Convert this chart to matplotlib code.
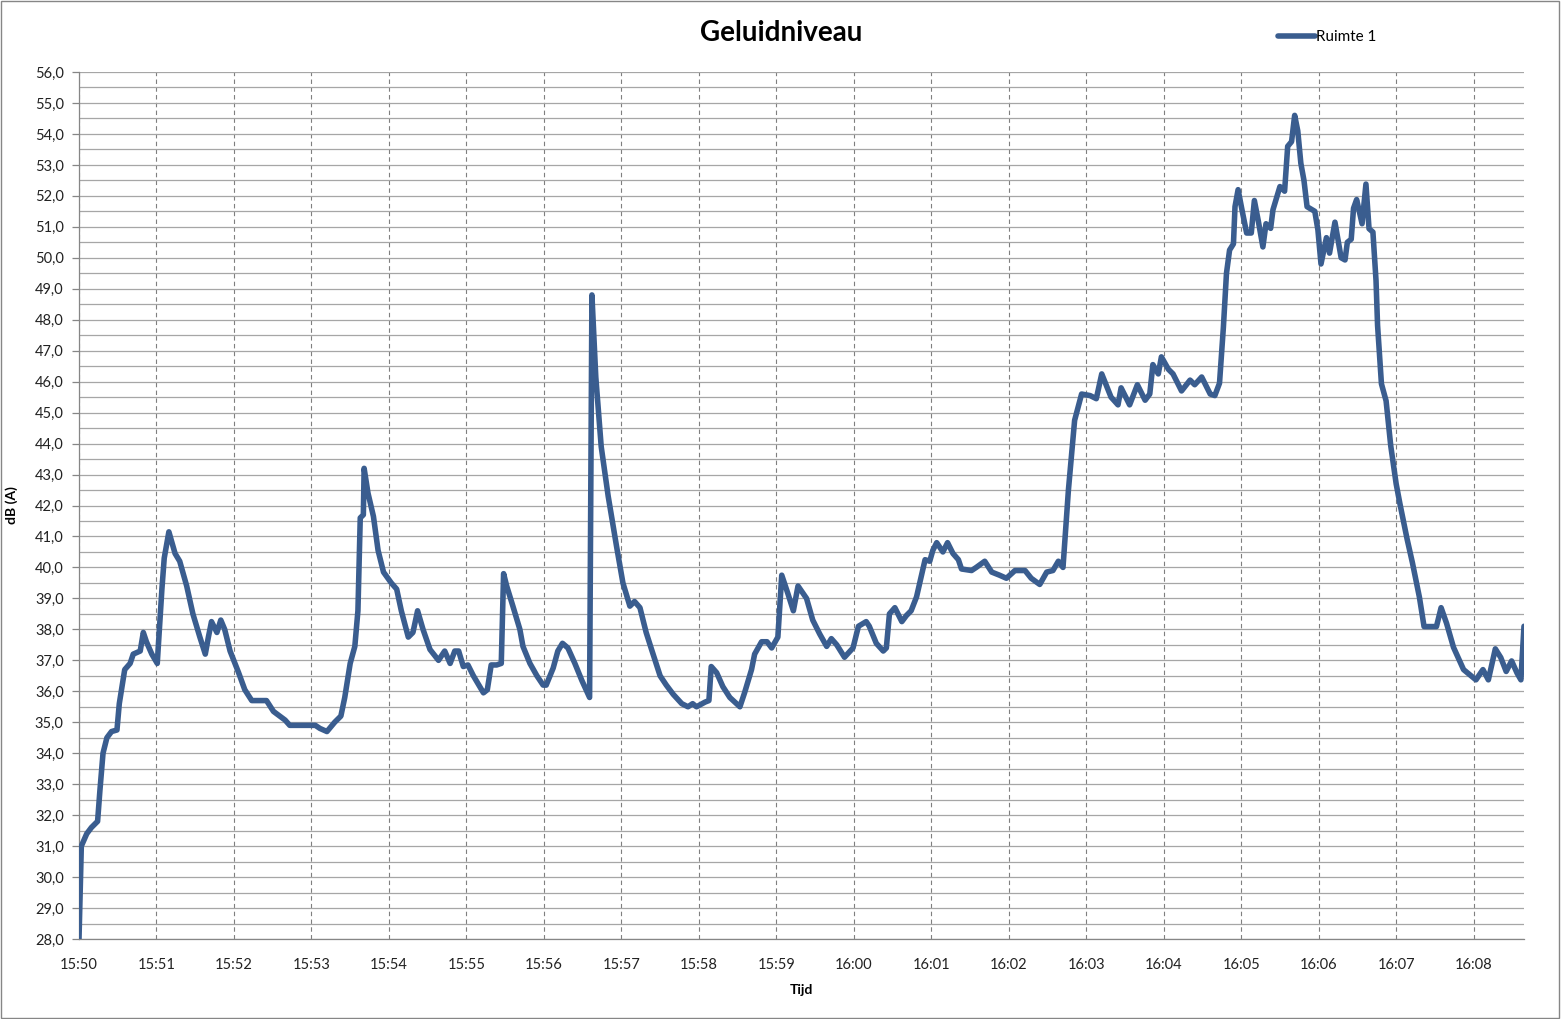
import matplotlib
matplotlib.use("Agg")
import matplotlib.pyplot as plt
from matplotlib.ticker import MultipleLocator, FuncFormatter
from matplotlib.patches import Rectangle

# minuten na 15:50
tijd = [
    0.00, 0.03, 0.10, 0.16, 0.24, 0.27, 0.31, 0.36, 0.42, 0.49, 0.52, 0.59, 0.66, 0.70,
    0.79, 0.83, 0.87, 0.94, 1.01, 1.07, 1.10, 1.16, 1.24, 1.30, 1.39, 1.47, 1.56, 1.63,
    1.67, 1.71, 1.78, 1.83, 1.88, 1.95, 2.06, 2.14, 2.23, 2.42, 2.51, 2.66, 2.72, 3.05,
    3.11, 3.20, 3.30, 3.38, 3.43, 3.50, 3.56, 3.60, 3.63, 3.67, 3.68, 3.73, 3.80, 3.86,
    3.93, 4.03, 4.10, 4.16, 4.25, 4.31, 4.37, 4.44, 4.53, 4.64, 4.72, 4.79, 4.85, 4.90,
    4.96, 5.02, 5.09, 5.22, 5.27, 5.32, 5.39, 5.45, 5.48, 5.52, 5.60, 5.69, 5.73, 5.82,
    5.91, 5.99, 6.03, 6.12, 6.18, 6.24, 6.31, 6.40, 6.49, 6.59, 6.61, 6.62, 6.65, 6.67,
    6.74, 6.83, 6.94, 7.02, 7.11, 7.17, 7.24, 7.32, 7.39, 7.50, 7.58, 7.67, 7.78, 7.86,
    7.92, 7.97, 8.08, 8.13, 8.16, 8.23, 8.31, 8.40, 8.53, 8.59, 8.68, 8.72, 8.81, 8.88,
    8.94, 9.02, 9.07, 9.15, 9.22, 9.28, 9.39, 9.47, 9.56, 9.65, 9.71, 9.78, 9.88, 9.99,
    10.06, 10.16, 10.20, 10.29, 10.38, 10.42, 10.46, 10.53, 10.62, 10.68, 10.74, 10.81,
    10.87, 10.92, 10.98, 11.02, 11.07, 11.15, 11.21, 11.28, 11.35, 11.39, 11.52, 11.58,
    11.69, 11.78, 11.88, 11.97, 12.08, 12.21, 12.29, 12.40, 12.49, 12.57, 12.64, 12.70,
    12.77, 12.82, 12.85, 12.94, 13.05, 13.13, 13.20, 13.32, 13.41, 13.45, 13.56, 13.66,
    13.76, 13.82, 13.86, 13.93, 13.97, 14.06, 14.12, 14.23, 14.34, 14.40, 14.49, 14.60,
    14.66, 14.72, 14.77, 14.81, 14.85, 14.90, 14.92, 14.96, 15.01, 15.07, 15.13, 15.17,
    15.22, 15.28, 15.32, 15.38, 15.41, 15.50, 15.56, 15.60, 15.65, 15.69, 15.73, 15.77,
    15.81, 15.85, 15.95, 15.99, 16.03, 16.10, 16.14, 16.21, 16.29, 16.34, 16.37, 16.42,
    16.45, 16.49, 16.56, 16.61, 16.65, 16.70, 16.74, 16.76, 16.81, 16.87, 16.93, 17.00,
    17.05, 17.14, 17.21, 17.30, 17.36, 17.52, 17.58, 17.65, 17.74, 17.87, 18.03, 18.12,
    18.19, 18.28, 18.35, 18.42, 18.49, 18.56, 18.61, 18.65,
]

# geluidniveau in dB(A)
ruimte_1 = [
    28.0, 31.0, 31.4, 31.6, 31.8, 32.8, 34.0, 34.5, 34.7, 34.75, 35.6, 36.7, 36.9, 37.2,
    37.3, 37.9, 37.6, 37.2, 36.9, 39.3, 40.3, 41.15, 40.45, 40.2, 39.4, 38.5, 37.75, 37.2,
    37.75, 38.25, 37.9, 38.3, 38.0, 37.3, 36.6, 36.05, 35.7, 35.7, 35.35, 35.07, 34.9, 34.9,
    34.8, 34.7, 35.0, 35.2, 35.8, 36.9, 37.45, 38.6, 41.6, 41.7, 43.2, 42.4, 41.65, 40.55,
    39.85, 39.5, 39.3, 38.6, 37.75, 37.9, 38.6, 38.0, 37.35, 37.0, 37.3, 36.9, 37.3, 37.3,
    36.8, 36.85, 36.5, 35.95, 36.05, 36.85, 36.85, 36.9, 39.8, 39.4, 38.75, 38.0, 37.45, 36.9,
    36.5, 36.2, 36.2, 36.75, 37.3, 37.55, 37.4, 36.9, 36.35, 35.8, 44.45, 48.8, 47.25, 46.15,
    43.9, 42.3, 40.65, 39.5, 38.75, 38.9, 38.7, 37.9, 37.35, 36.5, 36.2, 35.9, 35.6, 35.5,
    35.6, 35.5, 35.65, 35.7, 36.8, 36.6, 36.15, 35.8, 35.5, 35.95, 36.7, 37.2, 37.6, 37.6,
    37.4, 37.75, 39.75, 39.15, 38.6, 39.4, 39.0, 38.3, 37.85, 37.45, 37.7, 37.5, 37.1, 37.4,
    38.1, 38.25, 38.1, 37.55, 37.3, 37.4, 38.5, 38.7, 38.25, 38.45, 38.6, 39.05,
    39.7, 40.25, 40.2, 40.55, 40.8, 40.5, 40.8, 40.45, 40.25, 39.95, 39.9, 40.0,
    40.2, 39.85, 39.75, 39.65, 39.9, 39.9, 39.65, 39.45, 39.85, 39.9, 40.2, 40.0,
    42.5, 43.9, 44.75, 45.6, 45.55, 45.45, 46.25, 45.5, 45.25, 45.8, 45.25, 45.9,
    45.4, 45.6, 46.55, 46.25, 46.8, 46.4, 46.25, 45.7, 46.05, 45.9, 46.15, 45.6,
    45.55, 45.95, 47.75, 49.5, 50.25, 50.45, 51.65, 52.2, 51.55, 50.8, 50.8, 51.85,
    51.2, 50.35, 51.1, 50.95, 51.55, 52.3, 52.15, 53.6, 53.75, 54.6, 54.1, 53.05,
    52.5, 51.65, 51.5, 50.9, 49.8, 50.65, 50.15, 51.15, 50.0, 49.93, 50.5, 50.6,
    51.6, 51.88, 51.1, 52.38, 50.94, 50.83, 49.27, 47.82, 45.93, 45.38, 43.93, 42.7,
    42.04, 40.93, 40.15, 39.04, 38.09, 38.09, 38.7, 38.2, 37.42, 36.7, 36.37, 36.7,
    36.37, 37.37, 37.09, 36.64, 36.98, 36.59, 36.37, 38.1,
]

plt.rcParams["font.family"] = ["Lato", "DejaVu Sans"]

fig = plt.figure(figsize=(15.61, 10.19), dpi=100)
ax = fig.add_axes([79 / 1561, 80 / 1019, 1445 / 1561, 867 / 1019])

ax.plot(tijd, ruimte_1, color="#3A5D8F", lw=4.0, solid_joinstyle="round",
        solid_capstyle="round", label="Ruimte 1", zorder=3)

ax.set_xlim(0, 18.65)
ax.set_ylim(28, 56)

# y-as: elke 1,0 een label, rasterlijnen om de 0,5
ax.yaxis.set_major_locator(MultipleLocator(1))
ax.yaxis.set_minor_locator(MultipleLocator(0.5))
ax.yaxis.set_major_formatter(FuncFormatter(lambda v, p: f"{v:.1f}".replace(".", ",")))
ax.grid(axis="y", which="both", color="#A6A6A6", lw=0.9)

# x-as: elke minuut
ax.xaxis.set_major_locator(MultipleLocator(1))
ax.xaxis.set_major_formatter(FuncFormatter(
    lambda v, p: f"{15 + (50 + int(round(v))) // 60}:{(50 + int(round(v))) % 60:02d}"))
ax.grid(axis="x", which="major", color="#7F7F7F", lw=0.8, linestyle=(0, (4, 3)))
ax.set_axisbelow(True)

ax.tick_params(axis="y", which="major", length=5, width=0.9, color="#868686",
               labelsize=10.5, pad=6, labelcolor="#222222")
ax.tick_params(axis="y", which="minor", length=0)
ax.tick_params(axis="x", length=0, labelsize=10.5, pad=14, labelcolor="#222222")

for s in ["top", "right"]:
    ax.spines[s].set_visible(False)
for s in ["left", "bottom"]:
    ax.spines[s].set_color("#868686")
    ax.spines[s].set_linewidth(0.9)

ax.set_ylabel("dB (A)", fontsize=10, fontweight="bold")
ax.yaxis.set_label_coords(-0.042, 0.5)
ax.set_xlabel("Tijd", fontsize=10, fontweight="bold")
ax.xaxis.set_label_coords(0.5, -0.052)

fig.text(781 / 1561, 1 - 33 / 1019, "Geluidniveau", ha="center", va="center",
         fontsize=20, fontweight="bold")

ax.legend(loc="center left", bbox_to_anchor=(1278 / 1561, 1 - 37 / 1019),
          bbox_transform=fig.transFigure, frameon=False, fontsize=11,
          handlelength=2.4, handletextpad=0.1, borderpad=0, borderaxespad=0)

fig.patches.append(Rectangle((0.0005, 0.001), 0.998, 0.998, transform=fig.transFigure,
                             fill=False, edgecolor="#868686", lw=1))

fig.savefig("out.png", dpi=100)
